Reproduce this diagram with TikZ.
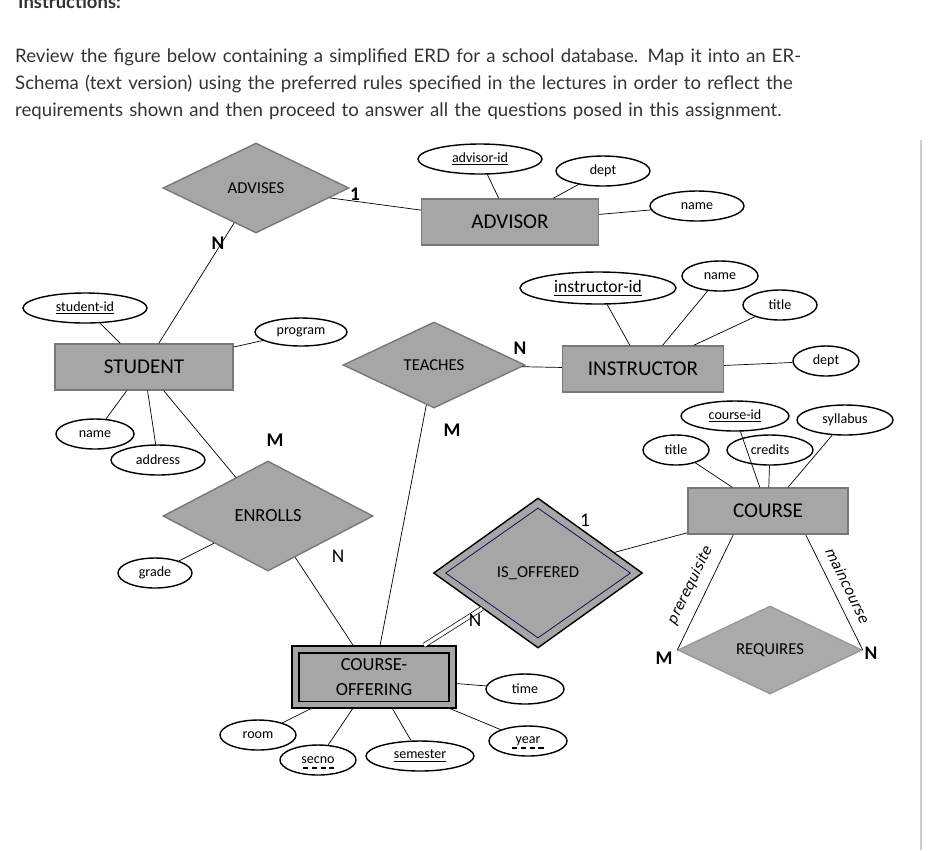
\documentclass[tikz,border=0pt]{standalone}
\usepackage{fontspec}
\setmainfont{Carlito}
\newfontfamily\headfont{Lato}
\newfontfamily\rolefont{DejaVu Sans}
\usepackage{tikz}
\usetikzlibrary{shapes.geometric}
\usetikzlibrary{shapes}

\definecolor{entgray}{RGB}{166,166,166}
\definecolor{reqgray}{RGB}{170,170,170}
\definecolor{edgegray}{RGB}{120,120,120}

\tikzset{
  entity/.style={rectangle,draw=edgegray,fill=entgray,thick,minimum height=46*0.02cm,font=\fontsize{12}{14}\selectfont},
  rel/.style={diamond,fill=entgray,draw=edgegray,thick,inner sep=0pt,font=\fontsize{9.5}{11}\selectfont},
  attr/.style={ellipse,draw,thick,fill=white,inner sep=0pt,minimum height=30*0.02cm,font=\fontsize{8}{9}\selectfont},
  card/.style={font=\bfseries\fontsize{11}{12}\selectfont},
  cardn/.style={font=\fontsize{11}{12}\selectfont},
  link/.style={draw,thin},
  partial/.style={densely dashed,thick},
  role/.style={font=\rolefont\itshape\fontsize{8}{9}\selectfont}
}

\begin{document}
\begin{tikzpicture}[x=0.02cm,y=-0.02cm]
    \useasboundingbox (0,0) rectangle (936,850);
    \draw[gray!40,thick] (921,140) -- (921,850);

    % instructions
    \node[anchor=west,font=\headfont\bfseries\fontsize{10.5}{12}\selectfont,text=black!80] (hdr) at (12,2) {Instructions:};
    \node[anchor=north west,align=left,text width=820*0.02cm,font=\headfont\fontsize{10.6}{15.2}\selectfont,text=black!80] (txt) at (9,43)
      {Review the figure below containing a simplified ERD for a school database. Map it into an ER-\\
       Schema (text version) using the preferred rules specified in the lectures in order to reflect the\\
       requirements shown and then proceed to answer all the questions posed in this assignment.};

    % entities
    \node[entity,minimum width=177*0.02cm] (advisor) at (510,222) {ADVISOR};
    \node[entity,minimum width=178*0.02cm] (student) at (144,367) {STUDENT};
    \node[entity,minimum width=161*0.02cm] (instructor) at (643,369) {INSTRUCTOR};
    \node[entity,minimum width=160*0.02cm] (course) at (768,511) {COURSE};
    \node[entity,draw=black,minimum width=164*0.02cm,minimum height=62*0.02cm] (offering) at (374,677) {};
    \node[rectangle,draw=black,thick,minimum width=150*0.02cm,minimum height=48*0.02cm,align=center,font=\fontsize{10.5}{14}\selectfont] (offerin) at (374,677) {COURSE-\\OFFERING};

    % relationships
    \node[rel,minimum width=186*0.02cm,minimum height=90*0.02cm] (advises) at (256,188) {ADVISES};
    \node[rel,minimum width=182*0.02cm,minimum height=86*0.02cm] (teaches) at (434,365) {TEACHES};
    \node[rel,minimum width=210*0.02cm,minimum height=110*0.02cm,font=\fontsize{10.5}{12}\selectfont] (enrolls) at (268,516) {ENROLLS};
    \node[rel,draw=black,minimum width=209*0.02cm,minimum height=150*0.02cm] (offered) at (538,573) {};
    \node[diamond,draw=blue!30!black,inner sep=0pt,minimum width=185*0.02cm,minimum height=130*0.02cm,font=\fontsize{9.5}{11}\selectfont] (offeredin) at (538,573) {IS\_OFFERED};
    \node[rel,fill=reqgray,draw=gray!80,minimum width=184*0.02cm,minimum height=88*0.02cm] (requires) at (770,650) {REQUIRES};

    % attributes
    \node[attr,minimum width=124*0.02cm] (advid) at (480,159) {\underline{advisor-id}};
    \node[attr,minimum width=94*0.02cm] (advdept) at (603,171) {dept};
    \node[attr,minimum width=94*0.02cm] (advname) at (697,206) {name};
    \node[attr,minimum width=124*0.02cm] (stuid) at (85,308) {\underline{student-id}};
    \node[attr,minimum width=92*0.02cm,minimum height=28*0.02cm] (stuprog) at (301,332) {program};
    \node[attr,minimum width=78*0.02cm] (stuname) at (95,434) {name};
    \node[attr,minimum width=94*0.02cm] (stuaddr) at (158,460) {address};
    \node[attr,minimum width=156*0.02cm,minimum height=32*0.02cm,font=\fontsize{10}{11}\selectfont] (insid) at (598,288) {\underline{instructor-id}};
    \node[attr,minimum width=76*0.02cm] (insname) at (720,276) {name};
    \node[attr,minimum width=74*0.02cm] (institle) at (780,305) {title};
    \node[attr,minimum width=66*0.02cm] (insdept) at (826,361) {dept};
    \node[attr,minimum width=108*0.02cm] (crsid) at (735,416) {\underline{course-id}};
    \node[attr,minimum width=96*0.02cm] (crssyl) at (845,420) {syllabus};
    \node[attr,minimum width=66*0.02cm] (crstitle) at (676,450) {title};
    \node[attr,minimum width=86*0.02cm] (crscred) at (770,450) {credits};
    \node[attr,minimum width=74*0.02cm] (grade) at (155,573) {grade};
    \node[attr,minimum width=78*0.02cm] (cotime) at (525,689) {time};
    \node[attr,minimum width=76*0.02cm] (coroom) at (258,735) {room};
    \node[attr,minimum width=76*0.02cm] (cosec) at (318,760) {secno};
    \node[attr,minimum width=108*0.02cm] (cosem) at (420,756) {\underline{semester}};
    \node[attr,minimum width=78*0.02cm] (coyear) at (528,741) {year};
    \draw[partial] (303,768) -- (334,768);
    \draw[partial] (512,748) -- (545,748);

    % connectors
    \draw[link] (advises) -- (advisor);
    \draw[link] (student) -- (advises);
    \draw[link] (advid) -- (advisor);
    \draw[link] (advdept) -- (advisor);
    \draw[link] (advname) -- (advisor);
    \draw[link] (stuid) -- (student);
    \draw[link] (stuprog) -- (student);
    \draw[link] (stuname) -- (student);
    \draw[link] (stuaddr) -- (student);
    \draw[link] (student) -- (enrolls);
    \draw[link] (enrolls) -- (offering);
    \draw[link] (grade) -- (enrolls);
    \draw[link] (teaches) -- (instructor);
    \draw[link] (teaches) -- (offering);
    \draw[link] (insid) -- (instructor);
    \draw[link] (insname) -- (instructor);
    \draw[link] (institle) -- (instructor);
    \draw[link] (insdept) -- (instructor);
    \draw[link] (crsid) -- (course);
    \draw[link] (crssyl) -- (course);
    \draw[link] (crstitle) -- (course);
    \draw[link] (crscred) -- (course);
    \draw[link] (offered) -- (course);
    \draw[link,double,double distance=2pt] (offering) -- (offered);
    \draw[link] (cotime) -- (offering);
    \draw[link] (coroom) -- (offering);
    \draw[link] (cosec) -- (offering);
    \draw[link] (cosem) -- (offering);
    \draw[link] (coyear) -- (offering);
    \draw[link] (course.south west) ++(46,0) coordinate (cpre) (requires.west) -- (cpre) node[role,midway,sloped,above=2pt] {prerequisite};
    \draw[link] (course.south east) ++(-43,0) coordinate (cmain) -- (requires.east) node[role,midway,sloped,above=2pt] {maincourse};

    % cardinalities
    \node[card] (c1) at (355,194) {1};
    \node[card] (c2) at (218,243) {N};
    \node[card] (c3) at (275,440) {M};
    \node[cardn] (c4) at (338,556) {N};
    \node[card] (c5) at (520,348) {N};
    \node[card] (c6) at (452,430) {M};
    \node[cardn] (c7) at (585,520) {1};
    \node[cardn] (c8) at (475,620) {N};
    \node[card] (c9) at (664,658) {M};
    \node[card] (c10) at (871,653) {N};
\end{tikzpicture}
\end{document}
